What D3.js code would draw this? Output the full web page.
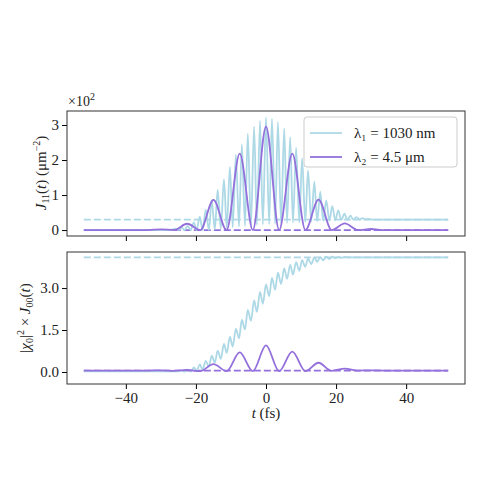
<!DOCTYPE html>
<html><head><meta charset="utf-8">
<script src="https://cdn.jsdelivr.net/npm/d3@7"></script>
<style>body{margin:0;background:#fff}text{font-family:"Liberation Serif","DejaVu Serif",serif;fill:#222}</style>
</head><body><svg id="c" width="500" height="500"></svg>
<script>
// x ticks
const xTicks=[-40,-20,0,20,40];
const topTicks=[0,1,2,3];
const botTicks=[0,1.5,3.0];
// top panel, lambda1 (1030 nm) extrema: t, value (x10^2 um^-2)
const topBlueT=[-52,-27.5,-25.8,-24.9,-24.1,-23.2,-22.4,-21.5,-20.6,-19.8,-18.9,-18.1,-17.2,-16.3,-15.5,-14.6,-13.8,-12.9,-12.0,-11.2,-10.3,-9.5,-8.6,-7.7,-6.9,-6.0,-5.2,-4.3,-3.4,-2.6,-1.7,-0.9,0,0.9,1.7,2.6,3.4,4.3,5.2,6.0,6.9,7.7,8.6,9.5,10.3,11.2,12.0,12.9,13.8,14.6,15.5,16.3,17.2,18.1,18.9,19.8,20.6,21.5,22.4,23.2,24.1,24.9,25.8,26.7,27.5,28.4,29.2,30.1,31,52];
const topBlueV=[0,0,0.04,0,0.07,0,0.12,0,0.22,0,0.38,0,0.58,0,0.85,0.02,1.15,0.04,1.45,0.06,1.8,0.08,2.15,0.1,2.45,0.12,2.75,0.14,2.95,0.15,3.12,0.16,3.22,0.17,3.18,0.18,3.08,0.19,2.9,0.2,2.65,0.21,2.35,0.22,2.05,0.23,1.7,0.24,1.38,0.25,1.1,0.26,0.85,0.27,0.68,0.28,0.56,0.29,0.47,0.29,0.41,0.3,0.37,0.3,0.34,0.3,0.32,0.3,0.3,0.3];
// top panel, lambda2 (4.5 um)
const topPurT=[-52,-33.75,-30,-26.25,-22.5,-18.75,-15,-11.25,-7.5,-3.75,0,3.75,7.5,11.25,15,18.75,22.5,26.25,30,33.75,52];
const topPurV=[0,0,0.02,0,0.18,0,0.86,0,2.18,0,2.95,0,2.18,0,0.87,0,0.19,0,0.03,0,0];
// bottom panel, lambda1
const botBlueT=[-52,-25,-24.1,-23.2,-22.4,-21.5,-20.6,-19.8,-18.9,-18.1,-17.2,-16.3,-15.5,-14.6,-13.8,-12.9,-12.0,-11.2,-10.3,-9.5,-8.6,-7.7,-6.9,-6.0,-5.2,-4.3,-3.4,-2.6,-1.7,-0.9,0,0.9,1.7,2.6,3.4,4.3,5.2,6.0,6.9,7.7,8.6,9.5,10.3,11.2,12.0,12.9,13.8,14.6,15.5,16.3,17.2,18.1,18.9,19.8,20.6,21.5,22.4,23.2,52];
const botBlueV=[0.02,0.02,0.05,0.01,0.08,0.01,0.16,0.05,0.27,0.08,0.4,0.19,0.58,0.34,0.76,0.47,1.0,0.68,1.25,0.91,1.54,1.2,1.86,1.52,2.22,1.83,2.56,2.15,2.86,2.44,3.13,2.71,3.36,2.94,3.55,3.15,3.7,3.33,3.83,3.48,3.93,3.62,4.0,3.76,4.06,3.86,4.1,3.94,4.11,3.99,4.12,4.04,4.12,4.07,4.11,4.08,4.11,4.1,4.1];
// bottom panel, lambda2
const botPurT=topPurT;
const botPurV=[0.05,0.05,0.06,0.04,0.07,0.03,0.28,0.03,0.7,0.03,0.95,0.03,0.73,0.03,0.33,0.04,0.12,0.05,0.06,0.05,0.05];
// dashed reference levels
const topRef=[0.3,0];
const botRef=[4.1,0.05];
const colors=["#add8e6","#9370db"];
const labels=["λ₁ = 1030 nm","λ₂ = 4.5 μm"];

const svg=d3.select("#c");
const L=67,R=465;
const x=d3.scaleLinear().domain([-56.8,56.8]).range([L,R]);
const yT=d3.scaleLinear().domain([-0.17,3.4]).range([236,111]);
const yB=d3.scaleLinear().domain([-0.43,4.29]).range([384,252]);

function panel(y,ticks,fmt,series,refs,showX){
  const g=svg.append("g");
  const [y0,y1]=y.range();
  g.append("g").attr("transform",`translate(0,${y0})`).call(d3.axisBottom(x).tickValues(xTicks).tickSize(5).tickFormat(showX?(d=>d<0?"−"+(-d):d):"")).call(a=>{a.select(".domain").remove();a.selectAll("text").attr("font-size",15);});
  g.append("g").attr("transform",`translate(${L},0)`).call(d3.axisLeft(y).tickValues(ticks).tickSize(5).tickFormat(fmt)).call(a=>{a.select(".domain").remove();a.selectAll("text").attr("font-size",15);});
  refs.forEach((v,i)=>g.append("line").attr("x1",x(-52)).attr("x2",x(52)).attr("y1",y(v)).attr("y2",y(v)).attr("stroke",colors[i]).attr("stroke-width",1.8).attr("stroke-dasharray","7,3"));
  series.forEach(([T,V],i)=>{
    g.append("path").datum(T.map((t,j)=>[t,V[j]])).attr("fill","none").attr("stroke",colors[i]).attr("stroke-width",1.8)
     .attr("d",d3.line().x(d=>x(d[0])).y(d=>y(d[1])).curve(d3.curveMonotoneX));
  });
  g.append("rect").attr("x",L).attr("y",y1).attr("width",R-L).attr("height",y0-y1).attr("fill","none").attr("stroke","#333").attr("stroke-width",1);
}
panel(yT,topTicks,d3.format("d"),[[topBlueT,topBlueV],[topPurT,topPurV]],topRef,false);
panel(yB,botTicks,d3.format(".1f"),[[botBlueT,botBlueV],[botPurT,botPurV]],botRef,true);

svg.append("text").attr("x",68).attr("y",106).attr("font-size",14).html('×10<tspan dy="-6" font-size="10">2</tspan>');
svg.append("text").attr("transform","translate(46,173) rotate(-90)").attr("text-anchor","middle").attr("font-size",15)
 .html('<tspan font-style="italic">J</tspan><tspan font-size="10" dy="3">11</tspan><tspan dy="-3">(</tspan><tspan font-style="italic">t</tspan>) (μm<tspan font-size="10" dy="-6">−2</tspan><tspan dy="6">)</tspan>');
svg.append("text").attr("transform","translate(30,318) rotate(-90)").attr("text-anchor","middle").attr("font-size",15)
 .html('|<tspan font-style="italic">χ</tspan><tspan font-size="10" dy="3">0</tspan><tspan dy="-3">|</tspan><tspan font-size="10" dy="-6">2</tspan><tspan dy="6"> × </tspan><tspan font-style="italic">J</tspan><tspan font-size="10" dy="3">00</tspan><tspan dy="-3">(</tspan><tspan font-style="italic">t</tspan>)');
svg.append("text").attr("x",266).attr("y",418).attr("text-anchor","middle").attr("font-size",15).html('<tspan font-style="italic">t</tspan> (fs)');
const lg=svg.append("g");
lg.append("rect").attr("x",304).attr("y",117).attr("width",153).attr("height",50).attr("rx",3).attr("fill","#fff").attr("fill-opacity",0.8).attr("stroke","#ccc");
labels.forEach((s,i)=>{
  const yy=133+i*24;
  lg.append("line").attr("x1",310).attr("x2",342).attr("y1",yy).attr("y2",yy).attr("stroke",colors[i]).attr("stroke-width",1.8);
  lg.append("text").attr("x",354).attr("y",yy+5).attr("font-size",15).text(s);
});
</script></body></html>
